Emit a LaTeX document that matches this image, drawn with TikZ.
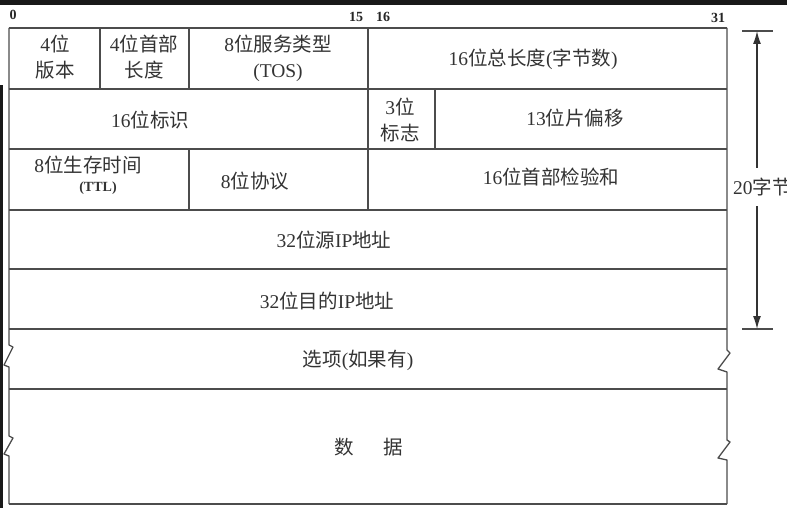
\documentclass[tikz,border=0pt]{standalone}
\usepackage{fontspec}
\setmainfont{Liberation Serif}
\newfontfamily\cjkfont{Noto Sans CJK SC}
\newcommand{\zh}[1]{{\cjkfont #1}}
\usetikzlibrary{arrows.meta}

\tikzset{
  field/.style={align=center, font=\fontsize{19.5}{26}\selectfont, text=black!80, inner sep=2pt},
  bitno/.style={font=\fontsize{14}{16}\selectfont\bfseries, text=black!85},
  rule/.style={line width=1.3pt, black!70, line join=round},
  dim/.style={line width=1.3pt, black!80, -{Latex[length=13pt,width=8pt]}},
}

\begin{document}
\begin{tikzpicture}[x=1pt, y=-1pt]
  \useasboundingbox (0,0) rectangle (787,508);
  % scan edges
  \fill[black!90] (0,0) rectangle (787,5);
  \fill[black!90] (0,85) rectangle (3,508);

  % bit numbers
  \node[bitno] (b0) at (13,15) {0};
  \node[bitno] (b15) at (356,17) {15};
  \node[bitno] (b16) at (383,17) {16};
  \node[bitno] (b31) at (718,18) {31};

  % horizontal rules
  \foreach \y in {28,89,149,210,269,329,389,504}
    \draw[rule] (9,\y) -- (727,\y);

  % outer edges with break marks
  \draw[rule] (9,28) -- (9,345) -- ++(4,2) -- ++(-9,18) -- ++(5,2) -- (9,436)
    -- ++(4,2) -- ++(-9,16) -- ++(5,2) -- (9,504);
  \draw[rule] (727,28) -- (727,350) -- ++(3,3) -- ++(-12,16) -- ++(9,3) -- (727,440)
    -- ++(3,2) -- ++(-12,16) -- ++(9,2) -- (727,504);

  % field dividers
  \draw[rule] (100,28) -- (100,89);
  \draw[rule] (189,28) -- (189,89);
  \draw[rule] (368,28) -- (368,210);
  \draw[rule] (435,89) -- (435,149);
  \draw[rule] (189,149) -- (189,210);

  % field names
  \node[field] (ver) at (55,57) {4\zh{位}\\\zh{版本}};
  \node[field] (hlen) at (144,57) {4\zh{位首部}\\\zh{长度}};
  \node[field] (tos) at (278,58) {8\zh{位服务类型}\\(TOS)};
  \node[field] (tlen) at (533,59) {16\zh{位总长度}(\zh{字节数})};
  \node[field] (ident) at (150,120) {16\zh{位标识}};
  \node[field] (flags) at (400,120) {3\zh{位}\\\zh{标志}};
  \node[field] (frag) at (575,118) {13\zh{位片偏移}};
  \node[field] (ttl) at (88,165) {8\zh{位生存时间}};
  \node[font=\fontsize{14}{16}\selectfont\bfseries, text=black!80] (ttlabbr) at (98,188) {(TTL)};
  \node[field] (proto) at (255,181) {8\zh{位协议}};
  \node[field] (csum) at (551,177) {16\zh{位首部检验和}};
  \node[field] (src) at (334,240) {32\zh{位源}IP\zh{地址}};
  \node[field] (dst) at (327,301) {32\zh{位目的}IP\zh{地址}};
  \node[field] (opt) at (358,360) {\zh{选项}(\zh{如果有})};
  \node[field] (data) at (369,447) {\zh{数}\hspace{1.5em}\zh{据}};

  % header length
  \coordinate (top) at (757,31);
  \coordinate (bot) at (757,329);
  \draw[rule] (742,31) -- (773,31);
  \draw[rule] (742,329) -- (773,329);
  \node[field, anchor=west, inner ysep=10pt] (hdr) at (731,187) {20\zh{字节}};
  \draw[dim] (hdr.north -| top) -- (top);
  \draw[dim] (hdr.south -| bot) -- (bot);
\end{tikzpicture}
\end{document}
